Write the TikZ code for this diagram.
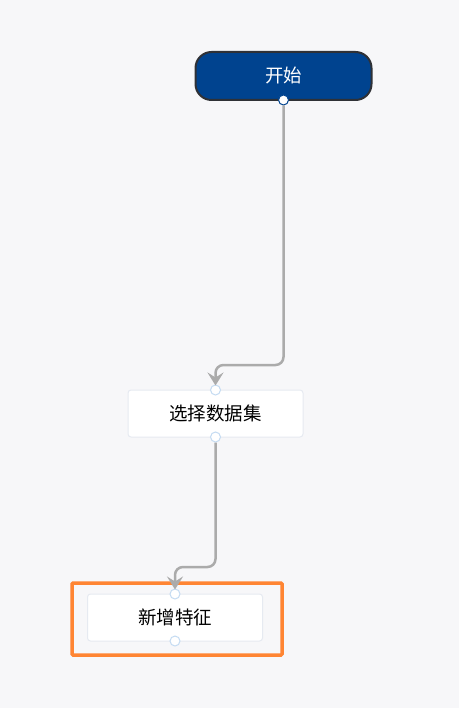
\documentclass[tikz,border=0pt]{standalone}
\usepackage{fontspec}
\setmainfont{Noto Sans CJK SC}
\usetikzlibrary{arrows.meta}
\definecolor{canvas}{HTML}{F7F7F9}
\definecolor{startblue}{HTML}{00438F}
\definecolor{startedge}{HTML}{2F3136}
\definecolor{boxedge}{HTML}{E6EAF1}
\definecolor{portedge}{HTML}{C4DBF2}
\definecolor{linkgray}{HTML}{ABABAB}
\definecolor{pickorange}{HTML}{FF8533}
\tikzset{
  startbox/.style={draw=startedge,line width=2pt,fill=startblue,text=white,rounded corners=16pt,minimum width=176pt,minimum height=48pt,font=\fontsize{18.5}{22}\selectfont},
  taskbox/.style={draw=boxedge,line width=1pt,fill=white,rounded corners=3pt,minimum width=175pt,minimum height=47pt,font=\fontsize{18.5}{22}\selectfont},
  port/.style={circle,draw=portedge,line width=1pt,fill=white,inner sep=0pt,minimum size=10pt},
  link/.style={draw=linkgray,line width=2.5pt,rounded corners=8pt,-{Stealth[length=13pt,width=16pt,inset=5pt]}}
}
\begin{document}
\begin{tikzpicture}[x=1pt,y=-1pt]
  \fill[canvas](0,0)rectangle(459,708);
  \useasboundingbox(0,0)rectangle(459,708);
  % nodes
  \node[startbox](start)at(283.5,76){开始};
  \node[taskbox](pick)at(215.5,413.5){选择数据集};
  \node[taskbox](feat)at(175,617.5){新增特征};
  \draw[pickorange,line width=3.5pt,rounded corners=1pt](72,583)rectangle(282,655);
  % ports
  \node[port,draw=startblue](startout)at(283.5,100){};
  \node[port](pickin)at(215.5,390){};
  \node[port](pickout)at(215.5,437){};
  \node[port](featin)at(175,594){};
  \node[port](featout)at(175,641){};
  % links
  \draw[link](startout.south)--(283.5,365)--(215.5,365)--([yshift=-1pt]pickin.north);
  \draw[link](pickout.south)--(215.5,567)--(175,567)--([yshift=-1pt]featin.north);
\end{tikzpicture}
\end{document}
